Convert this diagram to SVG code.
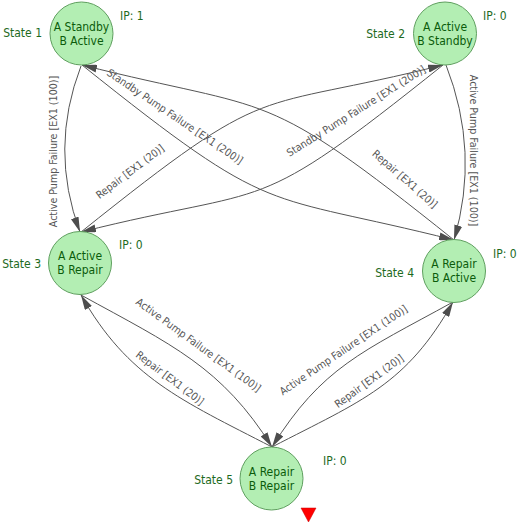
<svg xmlns="http://www.w3.org/2000/svg" width="521" height="524" viewBox="0 0 521 524">
<style>
  .bg { fill: #ffffff; }
  .node circle { fill: #b3eeb3; stroke: #5f9f5f; stroke-width: 1; }
  .node text { font-family: "DejaVu Sans Condensed", "DejaVu Sans", sans-serif; font-size: 12px; fill: #0b5c0b; }
  .node .inner { text-anchor: middle; }
  .node .name { text-anchor: end; fill: #1d6a1d; }
  .node .ip { text-anchor: start; fill: #1d6a1d; }
  .edge { fill: none; stroke: #555555; stroke-width: 1; marker-end: url(#arrow); }
  .elabel { font-family: "DejaVu Sans Condensed", "DejaVu Sans", sans-serif; font-size: 10.6px; fill: #555555; text-anchor: middle; }
</style>
<defs>
  <marker id="arrow" viewBox="0 0 15 8" refX="15" refY="4" markerWidth="15" markerHeight="8" markerUnits="userSpaceOnUse" orient="auto">
    <path d="M0,0 L15,4 L0,8 Z" fill="#4d4d4d"/>
  </marker>
</defs>
<rect class="bg" x="0" y="0" width="521" height="524"/>

<g id="connectors">
  <path id="e1" class="edge" d="M81,66 Q49,149 80,232"/>
  <path id="e2" class="edge" d="M446,65 Q480,152 454,240"/>
  <path id="e3" class="edge" d="M82,65 C277,221 259,191 454,240"/>
  <path id="e4" class="edge" d="M454,240 C259,84 277,114 82,65"/>
  <path id="e5" class="edge" d="M443,65 C248,221 277,183 81,232"/>
  <path id="e6" class="edge" d="M81,232 C276,76 247,114 443,65"/>
  <path id="e7" class="edge" d="M81,295 C172,345 222,367 272,447"/>
  <path id="e8" class="edge" d="M272,447 C181,400 128,378 81,295"/>
  <path id="e9" class="edge" d="M453,302 C362,352 322,367 272,447"/>
  <path id="e10" class="edge" d="M272,447 C363,400 406,385 453,302"/>

  <text class="elabel" dy="0.35em" transform="translate(53,151.5) rotate(-90)">Active Pump Failure [EX1 (100)]</text>
  <text class="elabel" dy="0.35em" transform="translate(474,150.5) rotate(90)">Active Pump Failure [EX1 (100)]</text>
  <text class="elabel" dy="0.35em" transform="translate(175,116.5) rotate(34)">Standby Pump Failure [EX1 (200)]</text>
  <text class="elabel" dy="0.35em" transform="translate(356,111) rotate(-32)">Standby Pump Failure [EX1 (200)]</text>
  <text class="elabel" dy="0.35em" transform="translate(130,171.5) rotate(-37)">Repair [EX1 (20)]</text>
  <text class="elabel" dy="0.35em" transform="translate(405,179) rotate(41)">Repair [EX1 (20)]</text>
  <text class="elabel" dy="0.35em" transform="translate(198.5,345) rotate(36)">Active Pump Failure [EX1 (100)]</text>
  <text class="elabel" dy="0.35em" transform="translate(170,378) rotate(37)">Repair [EX1 (20)]</text>
  <text class="elabel" dy="0.35em" transform="translate(343.5,350) rotate(-34)">Active Pump Failure [EX1 (100)]</text>
  <text class="elabel" dy="0.35em" transform="translate(369,381) rotate(-36)">Repair [EX1 (20)]</text>
</g>

<g id="state1" class="node">
  <circle cx="81.5" cy="33.5" r="31.5"/>
  <text class="inner" x="81.5" y="31">A Standby</text>
  <text class="inner" x="81.5" y="45">B Active</text>
  <text class="name" x="42" y="37">State 1</text>
  <text class="ip" x="120" y="20">IP: 1</text>
</g>
<g id="state2" class="node">
  <circle cx="445" cy="33.5" r="31.5"/>
  <text class="inner" x="445" y="31">A Active</text>
  <text class="inner" x="445" y="45">B Standby</text>
  <text class="name" x="405" y="38">State 2</text>
  <text class="ip" x="483" y="20">IP: 0</text>
</g>
<g id="state3" class="node">
  <circle cx="80" cy="263" r="31.5"/>
  <text class="inner" x="80" y="260">A Active</text>
  <text class="inner" x="80" y="274">B Repair</text>
  <text class="name" x="41" y="268">State 3</text>
  <text class="ip" x="119" y="249">IP: 0</text>
</g>
<g id="state4" class="node">
  <circle cx="454" cy="271" r="31.5"/>
  <text class="inner" x="454" y="268">A Repair</text>
  <text class="inner" x="454" y="282">B Active</text>
  <text class="name" x="414" y="277">State 4</text>
  <text class="ip" x="493" y="258">IP: 0</text>
</g>
<g id="state5" class="node">
  <circle cx="271.5" cy="478.5" r="31.5"/>
  <text class="inner" x="271.5" y="475.5">A Repair</text>
  <text class="inner" x="271.5" y="489.5">B Repair</text>
  <text class="name" x="233" y="484">State 5</text>
  <text class="ip" x="323" y="465">IP: 0</text>
  <polygon points="301,508 316,508 308.5,522" fill="#ff0000" stroke="#c80000" stroke-width="0.5"/>
</g>
</svg>
